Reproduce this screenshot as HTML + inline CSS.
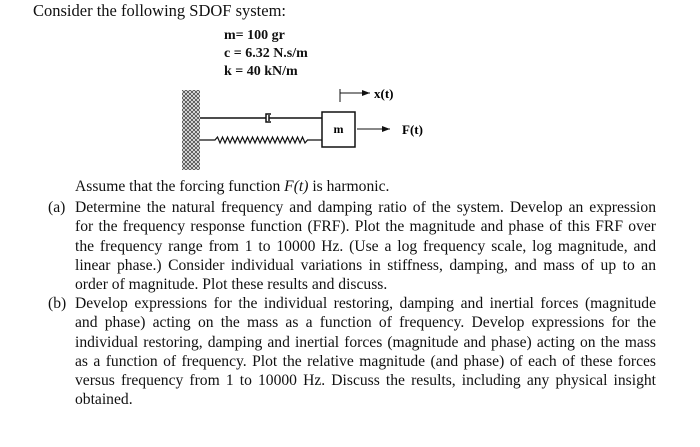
<!DOCTYPE html>
<html><head><style>
body{margin:0;width:700px;height:447px;background:#fff;position:relative;overflow:hidden;font-family:"Liberation Serif",serif;color:#111}
.a{position:absolute;white-space:nowrap}
.p{position:absolute;left:75px;width:581px;font-size:15.6px;line-height:19.3px}
.p div{text-align:justify;text-align-last:justify;white-space:nowrap}
.p div.l{text-align-last:left}
.lb{position:absolute;left:-27px}
.b{font-weight:bold;font-size:14px}
</style></head><body>
<div class="a" style="left:33px;top:1px;font-size:16.5px">Consider the following SDOF system:</div>
<div class="a b" style="left:224px;top:28px">m= 100 gr</div>
<div class="a b" style="left:224px;top:46px">c = 6.32 N.s/m</div>
<div class="a b" style="left:224px;top:64px">k = 40 kN/m</div>
<svg class="a" style="left:0;top:0" width="700" height="447">
<defs><pattern id="h" width="4" height="4" patternUnits="userSpaceOnUse"><path d="M0 0L4 4M4 0L0 4" stroke="#555" stroke-width="1"/></pattern>
<marker id="ar" markerWidth="8" markerHeight="6" refX="8" refY="3" orient="auto"><path d="M0 0L8 3L0 6z" fill="#111"/></marker></defs>
<rect x="182" y="90" width="18" height="80" fill="url(#h)"/>
<line x1="200" y1="118" x2="266" y2="118" stroke="#111" stroke-width="1.5"/>
<path d="M271 114H266V122H271" fill="none" stroke="#111" stroke-width="1.5"/>
<line x1="269" y1="115" x2="269" y2="121" stroke="#111" stroke-width="1.5"/>
<line x1="269" y1="118" x2="322" y2="118" stroke="#111" stroke-width="1.5"/>
<path d="M200 140H215 l2.5 -3 2.5 6 2.5 -6 2.5 6 2.5 -6 2.5 6 2.5 -6 2.5 6 2.5 -6 2.5 6 2.5 -6 2.5 6 2.5 -6 2.5 6 2.5 -6 2.5 6 2.5 -6 2.5 6 2.5 -6 2.5 6 2.5 -6 2.5 6 2.5 -6 2.5 6 2.5 -6 2.5 6 2.5 -6 2.5 6 2.5 -6 2.5 6 2.5 -6 2.5 6 2.5 -6 2.5 6 2.5 -6 2.5 6 2.5 -3 H322" fill="none" stroke="#111" stroke-width="1.2"/>
<rect x="322" y="112" width="33" height="35" fill="#fff" stroke="#111" stroke-width="1.5"/>
<text x="338.5" y="133" font-family="Liberation Serif" font-weight="bold" font-size="12" text-anchor="middle">m</text>
<line x1="357" y1="129" x2="390" y2="129" stroke="#111" stroke-width="1" marker-end="url(#ar)"/>
<text x="402" y="134" font-family="Liberation Serif" font-weight="bold" font-size="13">F(t)</text>
<line x1="340" y1="89" x2="340" y2="102" stroke="#111" stroke-width="1"/>
<line x1="340" y1="93" x2="370" y2="93" stroke="#111" stroke-width="1" marker-end="url(#ar)"/>
<text x="374" y="98" font-family="Liberation Serif" font-weight="bold" font-size="13">x(t)</text>
</svg>
<div class="a" style="left:75px;top:178px;font-size:15.6px">Assume that the forcing function <i>F(t)</i> is harmonic.</div>
<div class="p" style="top:198px"><span class="lb">(a)</span>
<div>Determine the natural frequency and damping ratio of the system. Develop an expression</div>
<div>for the frequency response function (FRF). Plot the magnitude and phase of this FRF over</div>
<div>the frequency range from 1 to 10000 Hz. (Use a log frequency scale, log magnitude, and</div>
<div>linear phase.) Consider individual variations in stiffness, damping, and mass of up to an</div>
<div class="l">order of magnitude. Plot these results and discuss.</div>
</div>
<div class="p" style="top:294px"><span class="lb">(b)</span>
<div>Develop expressions for the individual restoring, damping and inertial forces (magnitude</div>
<div>and phase) acting on the mass as a function of frequency. Develop expressions for the</div>
<div>individual restoring, damping and inertial forces (magnitude and phase) acting on the mass</div>
<div>as a function of frequency. Plot the relative magnitude (and phase) of each of these forces</div>
<div>versus frequency from 1 to 10000 Hz. Discuss the results, including any physical insight</div>
<div class="l">obtained.</div>
</div>
</body></html>
